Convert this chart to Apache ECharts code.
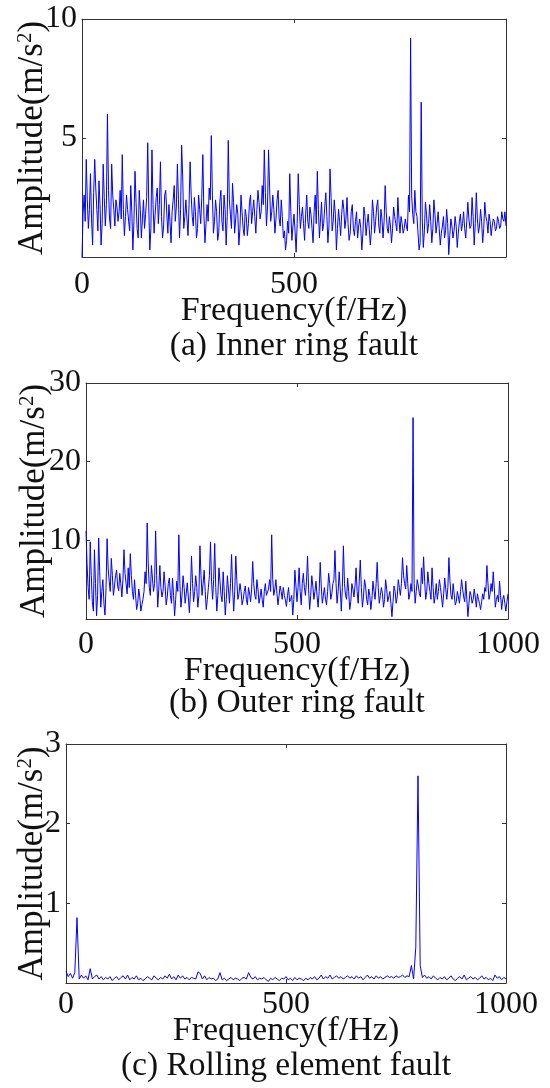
<!DOCTYPE html>
<html>
<head>
<meta charset="utf-8">
<script src="https://cdn.jsdelivr.net/npm/echarts@6/dist/echarts.min.js"></script>
<style>html,body{margin:0;padding:0;background:#fff}#c{width:550px;height:1088px}</style>
</head>
<body>
<div id="c"></div>
<script>
// ---- data: spectrum amplitudes, one value per frequency step ----
const innerStepHz = 2.5;
const innerRingAmp = [
 0.0,1.8,2.6,1.5,4.1,2.4,1.2,2.0,3.5,1.6,0.5,2.7,4.1,2.9,2.0,1.1,3.2,2.2,0.5,1.4,
 3.9,2.5,1.3,2.2,6.0,2.8,1.6,1.2,3.9,2.6,2.0,1.3,2.4,2.1,1.5,1.9,2.8,1.6,4.3,2.0,
 0.9,1.7,2.6,2.0,1.5,1.1,3.0,1.9,0.3,1.5,3.6,2.3,1.2,0.8,2.8,2.0,0.8,1.6,2.4,1.2,
 1.8,2.5,4.8,2.1,0.3,1.2,4.5,2.2,1.0,1.8,2.5,2.9,1.4,2.2,4.0,1.7,0.8,1.3,2.6,2.8,
 1.8,1.0,2.2,1.5,0.6,1.9,2.4,3.0,1.5,2.1,3.9,2.4,0.8,2.0,4.7,3.4,1.2,1.7,2.4,1.6,
 0.9,2.2,4.0,2.6,1.7,1.3,2.5,1.9,0.8,1.2,2.6,2.0,1.4,2.5,4.3,1.8,0.6,1.4,2.2,1.5,
 2.9,2.4,5.1,2.6,1.0,1.5,2.4,1.9,0.7,1.0,2.3,2.8,1.5,1.1,2.6,2.0,0.5,1.7,4.9,2.4,
 1.8,1.2,3.1,2.3,1.0,1.6,2.2,1.8,0.5,1.2,2.6,1.9,1.2,0.9,2.0,1.7,0.9,1.4,2.3,2.6,
 1.4,1.9,2.4,1.7,1.0,2.0,2.8,2.3,1.6,1.9,3.0,2.2,4.5,2.7,1.3,2.1,4.5,2.9,1.5,1.9,
 2.6,2.0,1.0,1.6,2.4,2.8,1.6,1.3,2.4,1.7,0.8,1.1,0.3,0.7,1.5,1.0,3.5,1.9,0.7,1.3,
 1.8,1.1,0.2,1.4,3.5,2.2,1.2,1.7,2.1,1.4,0.7,1.8,2.6,1.5,1.2,2.1,1.8,1.2,0.6,1.9,
 2.6,1.4,3.6,2.0,0.8,1.6,2.3,1.1,1.4,2.1,2.7,1.7,0.6,1.3,3.7,2.5,1.1,1.5,2.4,1.8,
 0.3,1.2,2.0,1.5,0.9,1.8,2.4,2.0,1.2,1.6,2.5,1.4,0.7,1.0,1.9,2.2,1.2,0.9,1.5,1.9,
 0.8,1.3,1.6,1.2,0.3,1.0,2.1,1.7,0.9,1.4,1.8,1.2,0.5,1.1,2.4,1.9,1.0,1.5,2.1,2.4,
 1.3,1.0,2.0,1.6,0.8,1.5,3.0,1.9,1.2,1.0,1.7,1.3,0.6,1.2,2.1,1.7,1.4,1.1,2.5,1.6,
 1.0,1.7,1.4,1.0,1.2,1.6,1.3,1.1,2.6,1.9,9.2,2.6,1.8,1.4,2.8,1.9,1.7,1.0,0.3,0.6,
 6.5,1.6,0.4,1.1,2.3,1.8,1.0,1.4,2.2,1.5,0.6,1.2,2.4,1.8,1.0,1.4,1.9,1.2,0.5,1.0,
 1.3,1.7,0.8,1.1,2.0,1.4,0.1,0.9,1.6,1.3,0.8,1.1,1.7,1.3,0.4,1.0,1.5,1.8,1.1,1.4,
 1.9,1.2,0.8,1.5,2.3,1.6,1.2,1.3,2.5,1.7,0.5,1.4,2.7,1.6,1.0,1.3,2.0,1.5,0.6,1.2,
 2.3,1.7,1.5,1.0,1.8,1.5,0.9,1.3,1.6,1.5,1.1,1.2,1.7,1.5,1.2,1.3,1.9,1.6,1.5,1.9,
 1.3
];
const outerStepHz = 2.5;
const outerRingAmp = [
 11.2,7.0,4.0,2.5,9.8,5.5,2.2,1.0,8.8,4.5,0.4,3.0,10.3,6.0,1.5,3.5,5.0,2.0,0.5,4.0,
 10.2,6.5,4.8,3.5,7.7,5.5,3.0,4.2,5.5,6.2,4.2,3.6,5.8,4.5,2.8,5.0,8.8,5.8,4.5,3.2,
 6.5,4.0,8.3,5.5,3.5,2.5,5.0,3.0,1.2,2.0,3.8,2.8,1.0,1.8,2.5,3.5,6.0,4.5,12.2,7.0,
 4.0,3.0,6.8,5.2,3.5,4.5,11.2,5.5,1.5,3.8,6.8,4.0,2.8,3.5,6.0,4.2,1.8,2.8,4.5,5.2,
 3.0,2.0,5.2,3.0,0.4,2.5,4.8,3.5,10.7,4.5,1.5,3.0,5.5,4.0,2.0,3.2,4.6,2.8,0.8,3.5,
 8.0,4.5,2.2,3.5,5.5,4.0,1.5,3.0,9.3,5.5,3.0,4.5,6.2,3.5,1.2,2.5,4.0,5.5,9.8,4.8,
 2.5,5.0,9.6,4.0,1.0,3.0,6.5,4.8,3.0,2.2,6.0,3.5,0.5,2.5,5.5,3.8,2.0,4.5,8.2,3.8,
 1.0,3.5,8.0,4.8,2.5,3.2,4.5,3.5,1.8,2.5,3.5,4.2,2.5,1.8,4.0,3.3,2.2,3.8,7.3,4.5,
 3.0,2.5,5.0,3.8,2.0,2.8,3.8,2.5,1.5,3.5,4.5,3.0,2.8,3.8,5.0,3.5,10.7,5.0,3.0,3.8,
 5.0,3.2,1.8,3.0,4.2,3.5,2.5,4.0,3.0,2.4,1.6,3.0,4.0,2.2,2.5,3.0,0.5,2.5,6.2,4.2,
 2.2,4.0,6.5,3.5,1.8,4.5,5.8,4.0,3.0,4.8,8.0,3.8,1.2,3.0,5.5,4.2,2.5,3.5,4.8,3.0,
 1.5,3.5,7.2,4.2,2.0,3.0,4.0,2.5,1.8,3.5,5.8,4.5,2.5,3.2,4.5,5.0,8.7,4.5,2.0,3.5,
 6.0,3.8,1.0,4.0,9.3,4.5,3.0,2.5,5.2,3.5,1.2,2.2,4.5,3.8,2.8,4.2,6.5,3.5,2.0,4.8,
 7.5,4.0,1.5,2.8,5.0,4.2,2.5,1.8,3.8,3.0,1.2,2.5,4.8,3.5,2.5,4.5,7.2,4.0,2.0,3.0,
 4.0,3.2,1.5,2.5,5.0,3.8,2.2,2.8,3.5,2.0,0.3,2.2,4.2,3.5,2.0,2.8,5.0,4.0,3.0,4.5,
 7.8,5.5,4.5,3.8,6.8,4.5,2.5,3.2,4.5,3.5,25.6,4.5,2.0,3.5,5.0,4.2,3.2,2.8,6.5,4.5,
 7.9,4.8,2.5,3.5,6.0,4.5,3.5,2.5,6.5,4.0,2.0,3.0,4.5,2.5,3.5,5.0,4.0,2.8,1.5,3.2,
 5.2,3.8,2.5,4.0,7.8,4.8,3.0,2.5,4.5,3.2,1.8,2.2,3.5,2.8,2.0,3.5,5.0,3.8,2.8,2.2,
 4.8,2.5,0.3,2.0,3.5,3.0,2.0,2.5,3.8,2.8,1.5,3.2,2.5,2.0,1.2,2.2,3.2,2.5,4.0,3.5,
 6.8,4.5,2.5,3.2,4.5,3.5,6.0,4.0,1.5,2.5,3.0,2.2,4.8,3.0,1.2,2.5,3.0,2.0,1.0,2.2,
 3.2
];
const rollingStepHz = 5;
const rollingAmp = [
 0.15,0.08,0.12,0.06,0.13,0.82,0.05,0.10,0.06,0.09,
 0.04,0.18,0.05,0.08,0.10,0.05,0.08,0.04,0.07,0.05,
 0.08,0.03,0.06,0.08,0.04,0.07,0.09,0.05,0.10,0.04,
 0.07,0.05,0.09,0.04,0.06,0.03,0.05,0.08,0.06,0.04,
 0.09,0.06,0.04,0.07,0.05,0.09,0.06,0.11,0.05,0.08,
 0.04,0.10,0.06,0.09,0.05,0.07,0.04,0.07,0.06,0.05,
 0.14,0.12,0.05,0.09,0.04,0.07,0.05,0.06,0.03,0.05,
 0.13,0.04,0.06,0.03,0.05,0.07,0.04,0.06,0.05,0.03,
 0.06,0.07,0.05,0.13,0.07,0.05,0.08,0.04,0.06,0.05,
 0.07,0.04,0.02,0.06,0.04,0.07,0.05,0.03,0.06,0.05,
 0.08,0.04,0.06,0.03,0.07,0.04,0.06,0.05,0.03,0.06,
 0.04,0.07,0.05,0.08,0.04,0.06,0.10,0.05,0.08,0.06,
 0.10,0.05,0.07,0.09,0.06,0.08,0.05,0.07,0.09,0.06,
 0.08,0.05,0.09,0.06,0.08,0.04,0.07,0.10,0.06,0.08,
 0.05,0.09,0.06,0.08,0.05,0.07,0.09,0.07,0.08,0.06,
 0.09,0.07,0.08,0.10,0.07,0.09,0.08,0.22,0.05,0.45,
 2.60,0.22,0.07,0.10,0.06,0.08,0.05,0.09,0.06,0.04,
 0.07,0.05,0.08,0.04,0.06,0.09,0.05,0.03,0.06,0.08,
 0.05,0.10,0.04,0.06,0.08,0.05,0.07,0.04,0.06,0.09,
 0.05,0.07,0.04,0.06,0.03,0.10,0.06,0.08,0.04,0.07,
 0.05
];
const xTickValues = [0, 500, 1000];
const yTicksInner = [0, 5, 10];
const yTicksOuter = [0, 10, 20, 30];
const yTicksRolling = [0, 1, 2, 3];
const xAxisTitle = 'Frequency(f/Hz)';
const yAxisTitle = 'Amplitude(m/s{sup|2})';
const captions = ['(a) Inner ring fault', '(b) Outer ring fault', '(c) Rolling element fault'];

// ---- layout / style ----
const FONT = '"Liberation Serif","Times New Roman",Times,serif';
const AXIS_COLOR = '#333';
const TEXT_COLOR = '#111';
const panels = [
  { amp: innerRingAmp, step: innerStepHz, yTicks: yTicksInner, hideXMax: true,
    grid: { left: 82, top: 19, width: 424, height: 238 },
    yNameGap: 32, xLabelMargin: 12, xNameGap: 37, captionY: 329 },
  { amp: outerRingAmp, step: outerStepHz, yTicks: yTicksOuter, hideXMax: false,
    grid: { left: 86, top: 383, width: 422, height: 236 },
    yNameGap: 34, xLabelMargin: 10, xNameGap: 35, captionY: 686 },
  { amp: rollingAmp, step: rollingStepHz, yTicks: yTicksRolling, hideXMax: false,
    grid: { left: 66, top: 744, width: 440, height: 239 },
    yNameGap: 16, xLabelMargin: 6, xNameGap: 31, captionY: 1049 }
];

const grids = [], xAxes = [], yAxes = [], series = [], graphics = [];
panels.forEach((p, k) => {
  grids.push(Object.assign({ outerBoundsMode: 'none', containLabel: false }, p.grid));
  const xMin = xTickValues[0], xMax = xTickValues[xTickValues.length - 1];
  const xInt = xTickValues[1] - xTickValues[0];
  const yMin = p.yTicks[0], yMax = p.yTicks[p.yTicks.length - 1];
  const yInt = p.yTicks[1] - p.yTicks[0];
  const axisLine = { show: true, onZero: false, lineStyle: { color: AXIS_COLOR, width: 1 } };
  const tick = { show: true, inside: true, length: 4, lineStyle: { color: AXIS_COLOR, width: 1 } };
  xAxes.push({
    type: 'value', gridIndex: k, position: 'bottom', min: xMin, max: xMax, interval: xInt,
    axisLine, axisTick: tick, splitLine: { show: false },
    axisLabel: { show: true, margin: p.xLabelMargin, fontFamily: FONT, fontSize: 32, color: TEXT_COLOR,
      formatter: v => (p.hideXMax && v === xMax) ? '' : String(v) },
    name: xAxisTitle, nameLocation: 'middle', nameGap: p.xNameGap, nameMoveOverlap: false,
    nameTextStyle: { fontFamily: FONT, fontSize: 34, color: TEXT_COLOR }
  });
  xAxes.push({
    type: 'value', gridIndex: k, position: 'top', min: xMin, max: xMax, interval: xInt,
    axisLine, axisTick: tick, splitLine: { show: false }, axisLabel: { show: false }
  });
  yAxes.push({
    type: 'value', gridIndex: k, position: 'left', min: yMin, max: yMax, interval: yInt,
    axisLine, axisTick: tick, splitLine: { show: false },
    axisLabel: { show: true, margin: 5, fontFamily: FONT, fontSize: 32, color: TEXT_COLOR,
      formatter: v => v === yMin ? '' : String(v) },
    name: yAxisTitle, nameLocation: 'middle', nameGap: p.yNameGap, nameRotate: 90, nameMoveOverlap: false,
    nameTextStyle: { fontFamily: FONT, fontSize: 35, color: TEXT_COLOR,
      rich: { sup: { fontFamily: FONT, fontSize: 21, color: TEXT_COLOR, verticalAlign: 'top' } } }
  });
  yAxes.push({
    type: 'value', gridIndex: k, position: 'right', min: yMin, max: yMax, interval: yInt,
    axisLine, axisTick: tick, splitLine: { show: false }, axisLabel: { show: false }
  });
  series.push({
    type: 'line', xAxisIndex: 2 * k, yAxisIndex: 2 * k,
    data: p.amp.map((a, i) => [i * p.step, a]),
    showSymbol: false, symbol: 'none', clip: true,
    lineStyle: { color: '#0000ff', width: 1 }, animation: false
  });
  graphics.push({
    type: 'text', x: p.grid.left + p.grid.width / 2, y: p.captionY,
    style: { text: captions[k], fontFamily: FONT, fontSize: 33.5, fill: TEXT_COLOR,
      textAlign: 'center', textVerticalAlign: 'top', align: 'center', verticalAlign: 'top' }
  });
});

const chart = echarts.init(document.getElementById('c'), null, { renderer: 'canvas', width: 550, height: 1088 });
chart.setOption({
  backgroundColor: '#ffffff',
  animation: false,
  grid: grids,
  xAxis: xAxes,
  yAxis: yAxes,
  series: series,
  graphic: graphics
});
</script>
</body>
</html>
